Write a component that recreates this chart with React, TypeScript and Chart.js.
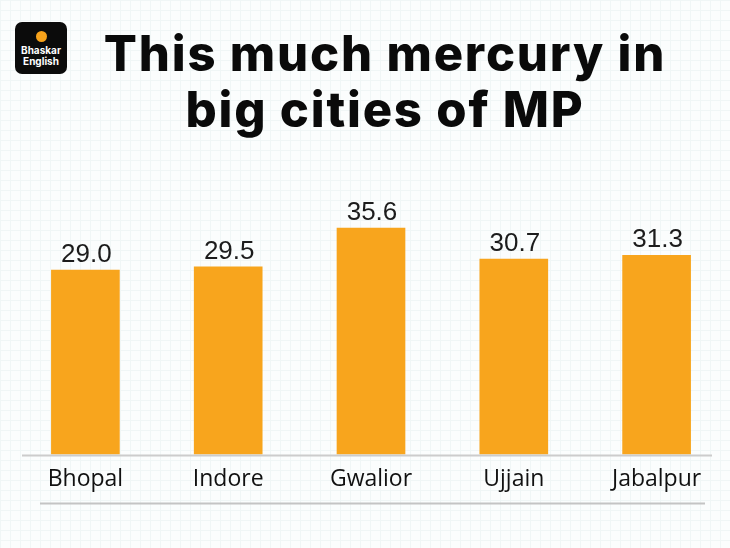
import React, { useEffect, useRef } from "react";
import { Chart, registerables } from "chart.js";

Chart.register(...registerables);

const cities = ["Bhopal", "Indore", "Gwalior", "Ujjain", "Jabalpur"];
const mercury = [29.0, 29.5, 35.6, 30.7, 31.3];
const titleLines = ["This much mercury in", "big cities of MP"];
const yMin = 0;
const yMax = 40;

const barColor = "#F8A51D";

const valueLabelPlugin = {
  id: "valueLabels",
  afterDatasetsDraw(chart: any) {
    const { ctx } = chart;
    const meta = chart.getDatasetMeta(0);
    ctx.save();
    ctx.font = '26px "Liberation Sans", Arial, sans-serif';
    ctx.fillStyle = "#1c1c1c";
    ctx.textAlign = "center";
    ctx.textBaseline = "alphabetic";
    meta.data.forEach((bar: any, i: number) => {
      ctx.fillText(mercury[i].toFixed(1), bar.x + 1, bar.y - 8);
    });
    ctx.restore();
  },
};

const rulesPlugin = {
  id: "rules",
  afterDraw(chart: any) {
    const { ctx, chartArea } = chart;
    ctx.save();
    ctx.strokeStyle = "#cccccc";
    ctx.lineWidth = 2;
    ctx.beginPath();
    ctx.moveTo(22, chartArea.bottom + 1);
    ctx.lineTo(712, chartArea.bottom + 1);
    ctx.stroke();
    ctx.strokeStyle = "#c4c4c4";
    ctx.beginPath();
    ctx.moveTo(40, chartArea.bottom + 49);
    ctx.lineTo(705, chartArea.bottom + 49);
    ctx.stroke();
    ctx.restore();
  },
};

export default function App() {
  const canvasRef = useRef<HTMLCanvasElement | null>(null);

  useEffect(() => {
    if (!canvasRef.current) return;
    const chart = new Chart(canvasRef.current, {
      type: "bar",
      data: {
        labels: cities,
        datasets: [
          {
            data: mercury,
            backgroundColor: barColor,
            borderWidth: 0,
            barThickness: 68,
          },
        ],
      },
      options: {
        animation: false,
        responsive: false,
        maintainAspectRatio: false,
        layout: { padding: { left: 14, right: 2, top: 200, bottom: 44 } },
        plugins: {
          legend: { display: false },
          tooltip: { enabled: false },
          title: { display: false },
        },
        scales: {
          x: {
            grid: { display: false, drawTicks: false },
            border: { display: false },
            ticks: {
              color: "#111111",
              padding: 11,
              font: { family: '"Open Sans", sans-serif', size: 23 },
              maxRotation: 0,
              autoSkip: false,
            },
          },
          y: {
            display: false,
            min: yMin,
            max: yMax,
          },
        },
      },
      plugins: [valueLabelPlugin, rulesPlugin],
    });
    return () => chart.destroy();
  }, []);

  return (
    <div
      style={{
        position: "fixed",
        left: 0,
        top: 0,
        width: 730,
        height: 548,
        overflow: "hidden",
        backgroundColor: "#fbfdfd",
        backgroundImage:
          "linear-gradient(#f0f6f6 1px, transparent 1px), linear-gradient(90deg, #f0f6f6 1px, transparent 1px)",
        backgroundSize: "10px 10px",
      }}
    >
      <div
        style={{
          position: "absolute",
          left: 15,
          top: 22,
          width: 52,
          height: 52,
          background: "#0b0b0b",
          borderRadius: 7,
        }}
      >
        <div
          style={{
            position: "absolute",
            left: 21,
            top: 9,
            width: 11,
            height: 11,
            borderRadius: "50%",
            background: "#F7A21B",
          }}
        />
        <div
          style={{
            position: "absolute",
            left: 0,
            top: 23,
            width: 52,
            textAlign: "center",
            color: "#ffffff",
            fontFamily: '"Inter", sans-serif',
            fontWeight: 700,
            fontSize: 10,
            lineHeight: "11px",
          }}
        >
          Bhaskar
          <br />
          English
        </div>
      </div>
      <div
        style={{
          position: "absolute",
          left: 0,
          top: 26,
          width: 770,
          textAlign: "center",
          color: "#0a0a0a",
          fontFamily: '"Inter", sans-serif',
          fontWeight: 800,
          fontSize: 49,
          lineHeight: "56px",
          letterSpacing: 1.8,
        }}
      >
        {titleLines.map((t) => (
          <div key={t}>{t}</div>
        ))}
      </div>
      <canvas
        ref={canvasRef}
        width={730}
        height={548}
        style={{ position: "absolute", left: 0, top: 0 }}
      />
    </div>
  );
}
